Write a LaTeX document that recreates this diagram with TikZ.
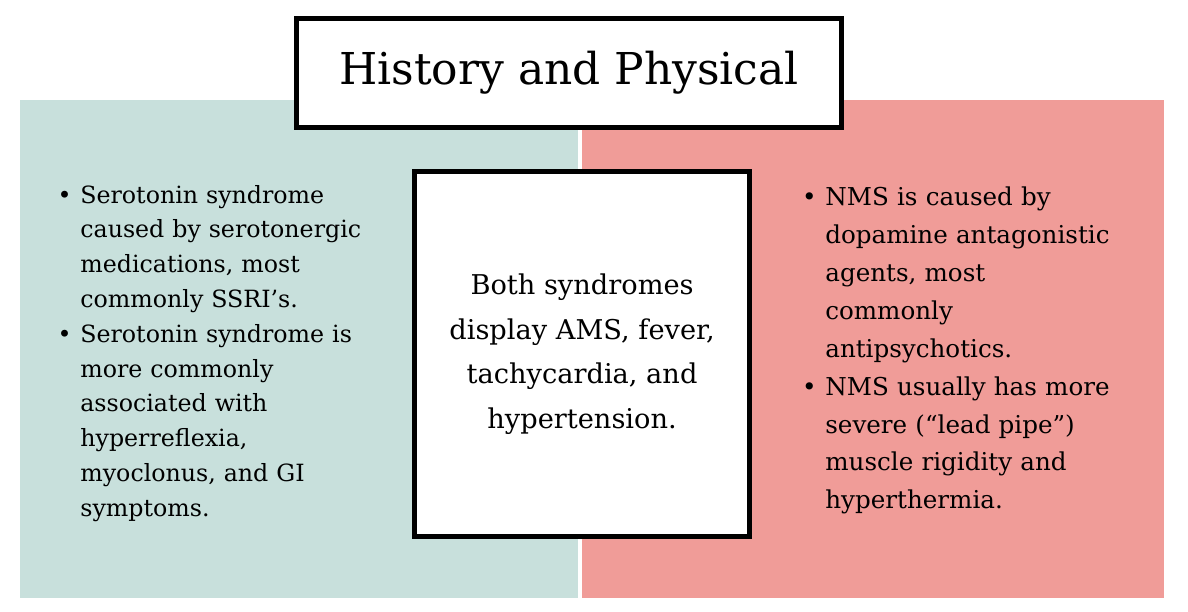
\documentclass[tikz,border=0pt]{standalone}
\usepackage{fontspec}
\setmainfont{DejaVu Serif}
\usepackage{enumitem}
\usetikzlibrary{positioning}
\definecolor{sertcol}{HTML}{C8E0DC}
\definecolor{nmscol}{HTML}{F09C98}
\tikzset{
  panel/.style={draw=none, inner sep=0pt, anchor=north west},
  boxed/.style={draw=black, line width=3pt, fill=white, anchor=north west, inner sep=0pt},
  listtxt/.style={anchor=north west, align=left, inner sep=0pt}
}
\begin{document}
\begin{tikzpicture}[x=0.02cm, y=-0.02cm]
\useasboundingbox (0,0) rectangle (1188,612);
% background panels
\fill[sertcol] (20,100) rectangle (578,598);
\fill[nmscol] (582,100) rectangle (1164,598);
% title
\node[boxed, minimum width=10.9cm, minimum height=2.18cm,
  font=\fontsize{25}{30}\selectfont] (title) at (294,16) {History and Physical};
% centre box
\node[boxed, minimum width=6.7cm, minimum height=7.3cm] (both) at (412,169) {};
\node[align=center, font=\fontsize{15.5}{25.5}\selectfont] (bothtxt) at (both.center)
  {Both syndromes\\display AMS, fever,\\tachycardia, and\\hypertension.};
% left list
\node[listtxt, text width=6.4cm, font=\fontsize{13.5}{19.8}\selectfont] (sert) at (46,168) {%
\begin{itemize}[leftmargin=0.68cm, itemsep=0pt, topsep=0pt, parsep=0pt, label=\textbullet]
\item Serotonin syndrome caused by serotonergic medications, most commonly SSRI’s.
\item Serotonin syndrome is more commonly associated with hyperreflexia, myoclonus, and GI symptoms.
\end{itemize}};
% right list
\node[listtxt, text width=6.9cm, font=\fontsize{14}{21.6}\selectfont] (nms) at (790,167) {%
\begin{itemize}[leftmargin=0.7cm, itemsep=0pt, topsep=0pt, parsep=0pt, label=\textbullet]
\item NMS is caused by dopamine antagonistic agents, most\\ commonly antipsychotics.
\item NMS usually has more severe (“lead pipe”) muscle rigidity and hyperthermia.
\end{itemize}};
\end{tikzpicture}
\end{document}
